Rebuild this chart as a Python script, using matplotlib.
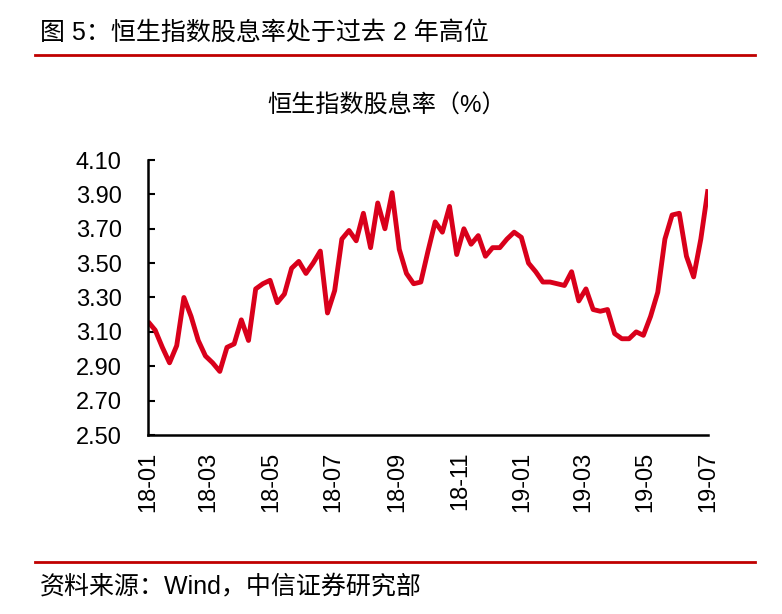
import matplotlib
matplotlib.use("Agg")
import matplotlib.pyplot as plt
import matplotlib.dates as mdates
from matplotlib.lines import Line2D
from matplotlib.ticker import FormatStrFormatter
import pandas as pd

plt.rcParams['font.family'] = ['Liberation Sans', 'Noto Sans CJK SC', 'DejaVu Sans']

fig_title = "图 5：恒生指数股息率处于过去 2 年高位"
chart_title = "恒生指数股息率（%）"
source_text = "资料来源：Wind，中信证券研究部"

dates = pd.date_range("2018-01-01", periods=79, freq="7D")
yield_values = [
    3.16, 3.11, 3.01, 2.92, 3.02, 3.30, 3.19, 3.05, 2.96, 2.92,
    2.87, 3.01, 3.03, 3.17, 3.05, 3.35, 3.38, 3.40, 3.27, 3.32,
    3.47, 3.51, 3.44, 3.50, 3.57, 3.21, 3.34, 3.64, 3.69, 3.63,
    3.79, 3.59, 3.85, 3.70, 3.91, 3.58, 3.44, 3.38, 3.39, 3.57,
    3.74, 3.68, 3.83, 3.55, 3.70, 3.61, 3.66, 3.54, 3.59, 3.59,
    3.64, 3.68, 3.65, 3.50, 3.45, 3.39, 3.39, 3.38, 3.37, 3.45,
    3.28, 3.35, 3.23, 3.22, 3.23, 3.09, 3.06, 3.06, 3.10, 3.08,
    3.19, 3.33, 3.64, 3.78, 3.79, 3.54, 3.42, 3.64, 3.93,
]
y_ticks = [2.50, 2.70, 2.90, 3.10, 3.30, 3.50, 3.70, 3.90, 4.10]
x_tick_dates = pd.date_range("2018-01-01", "2019-07-01", freq="2MS")

W, H = 782, 614
fig = plt.figure(figsize=(W / 100, H / 100), dpi=100)
fig.patch.set_facecolor("white")

ax = fig.add_axes([148 / W, (H - 435) / H, (708 - 148) / W, (435 - 160) / H])
ax.plot(dates, yield_values, color="#D9001B", linewidth=3.5,
        solid_joinstyle="round", solid_capstyle="butt")

ax.set_xlim(dates[0], dates[-1])
ax.set_ylim(2.5, 4.1)
ax.set_yticks(y_ticks)
ax.yaxis.set_major_formatter(FormatStrFormatter("%.2f"))
ax.set_xticks(x_tick_dates)
ax.xaxis.set_major_formatter(mdates.DateFormatter("%y-%m"))

for side in ["top", "right"]:
    ax.spines[side].set_visible(False)
for side in ["left", "bottom"]:
    ax.spines[side].set_linewidth(1.8)
    ax.spines[side].set_color("black")

ax.tick_params(axis="y", direction="in", length=5, width=1.5, pad=19,
               labelsize=17, colors="black")
ax.tick_params(axis="x", length=0, pad=12, labelsize=17, labelrotation=90)
for lbl in ax.get_xticklabels():
    lbl.set_horizontalalignment("center")
    lbl.set_verticalalignment("top")

fig.text(40 / W, 1 - 33 / H, fig_title, fontsize=18, ha="left", va="center",
         color="black")
fig.add_artist(Line2D([35 / W, 755 / W], [1 - 55 / H, 1 - 55 / H],
                      color="#C00000", linewidth=2))
fig.text(387 / W, 1 - 105 / H, chart_title, fontsize=17.4, ha="center",
         va="center", color="black")
fig.add_artist(Line2D([35 / W, 755 / W], [1 - 562 / H, 1 - 562 / H],
                      color="#C00000", linewidth=2))
fig.text(40 / W, 1 - 586 / H, source_text, fontsize=18, ha="left",
         va="center", color="black")

fig.savefig("out.png", dpi=100, facecolor="white")
